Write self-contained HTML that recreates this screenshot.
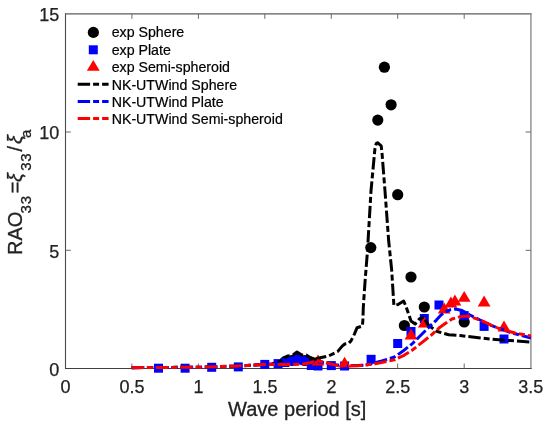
<!DOCTYPE html>
<html><head><meta charset="utf-8"><title>RAO33</title>
<style>
html,body{margin:0;padding:0;background:#fff;}
body{width:550px;height:428px;overflow:hidden;}
svg{display:block;font-family:"Liberation Sans",Arial,Helvetica,sans-serif;}
</style></head><body>
<svg width="550" height="428" viewBox="0 0 550 428">
<rect width="550" height="428" fill="#fff"/>

<g fill="none">
<line x1="65.5" y1="13.3" x2="65.5" y2="369" stroke="#4a4a4a" stroke-width="1.1"/>
<line x1="65.1" y1="13.8" x2="531.6" y2="13.8" stroke="#5c5c5c" stroke-width="1.2"/>
<line x1="530.9" y1="13.3" x2="530.9" y2="369" stroke="#8c8c8c" stroke-width="1.4"/>
<line x1="65.1" y1="368.5" x2="531.6" y2="368.5" stroke="#404040" stroke-width="1.1"/>
<g stroke="#6a6a6a" stroke-width="1">
<line x1="131.9" y1="368.5" x2="131.9" y2="363.5"/>
<line x1="131.9" y1="13.8" x2="131.9" y2="18.8"/>
<line x1="198.4" y1="368.5" x2="198.4" y2="363.5"/>
<line x1="198.4" y1="13.8" x2="198.4" y2="18.8"/>
<line x1="264.8" y1="368.5" x2="264.8" y2="363.5"/>
<line x1="264.8" y1="13.8" x2="264.8" y2="18.8"/>
<line x1="331.3" y1="368.5" x2="331.3" y2="363.5"/>
<line x1="331.3" y1="13.8" x2="331.3" y2="18.8"/>
<line x1="397.7" y1="368.5" x2="397.7" y2="363.5"/>
<line x1="397.7" y1="13.8" x2="397.7" y2="18.8"/>
<line x1="464.2" y1="368.5" x2="464.2" y2="363.5"/>
<line x1="464.2" y1="13.8" x2="464.2" y2="18.8"/>
<line x1="65.5" y1="250.3" x2="70.8" y2="250.3"/>
<line x1="530.9" y1="250.3" x2="525.6" y2="250.3"/>
<line x1="65.5" y1="132.0" x2="70.8" y2="132.0"/>
<line x1="530.9" y1="132.0" x2="525.6" y2="132.0"/>
</g></g>
<g font-size="18px" fill="#222" stroke="#222" stroke-width="0.25">
<text x="65.6" y="392.6" text-anchor="middle">0</text>
<text x="132.0" y="392.6" text-anchor="middle">0.5</text>
<text x="198.5" y="392.6" text-anchor="middle">1</text>
<text x="264.9" y="392.6" text-anchor="middle">1.5</text>
<text x="331.4" y="392.6" text-anchor="middle">2</text>
<text x="397.8" y="392.6" text-anchor="middle">2.5</text>
<text x="464.3" y="392.6" text-anchor="middle">3</text>
<text x="530.7" y="392.6" text-anchor="middle">3.5</text>
<text x="59.2" y="375.8" text-anchor="end">0</text>
<text x="59.2" y="257.6" text-anchor="end">5</text>
<text x="59.2" y="139.3" text-anchor="end">10</text>
<text x="59.2" y="21.1" text-anchor="end">15</text>
</g>
<text x="297.2" y="415.6" font-size="20px" fill="#222" stroke="#222" stroke-width="0.3" text-anchor="middle">Wave period [s]</text>
<g transform="translate(21.7,0) rotate(-90)" font-size="20px" fill="#222" stroke="#222" stroke-width="0.3">
<text x="-255" y="0">RAO</text>
<text x="-213.4" y="9.3" font-size="15px" letter-spacing="0.7">33</text>
<text x="-193.3" y="0">=</text>
<text x="-182" y="0" font-style="italic">ξ</text>
<text x="-170.7" y="9.3" font-size="15px" letter-spacing="0.7">33</text>
<text x="-151.6" y="0">/</text>
<text x="-144" y="0" font-style="italic">ξ</text>
<text x="-138" y="9.3" font-size="15px">a</text>
</g>
<g>
<circle cx="285.8" cy="361.2" r="5.6" fill="#000"/>
<circle cx="292.4" cy="360.3" r="5.6" fill="#000"/>
<circle cx="298.1" cy="359.0" r="5.6" fill="#000"/>
<circle cx="304.7" cy="360.5" r="5.6" fill="#000"/>
<circle cx="311.3" cy="362.0" r="5.6" fill="#000"/>
<circle cx="370.8" cy="247.6" r="5.6" fill="#000"/>
<circle cx="377.8" cy="120.1" r="5.6" fill="#000"/>
<circle cx="384.4" cy="67.2" r="5.6" fill="#000"/>
<circle cx="391.1" cy="104.8" r="5.6" fill="#000"/>
<circle cx="397.7" cy="194.7" r="5.6" fill="#000"/>
<circle cx="404.4" cy="325.5" r="5.6" fill="#000"/>
<circle cx="411.0" cy="277.0" r="5.6" fill="#000"/>
<circle cx="424.3" cy="307.0" r="5.6" fill="#000"/>
<circle cx="464.2" cy="322.0" r="5.6" fill="#000"/>
<rect x="154.0" y="363.7" width="9" height="9" fill="#00f"/>
<rect x="180.6" y="363.7" width="9" height="9" fill="#00f"/>
<rect x="207.2" y="362.8" width="9" height="9" fill="#00f"/>
<rect x="233.8" y="362.4" width="9" height="9" fill="#00f"/>
<rect x="260.3" y="359.9" width="9" height="9" fill="#00f"/>
<rect x="273.6" y="359.1" width="9" height="9" fill="#00f"/>
<rect x="280.3" y="358.0" width="9" height="9" fill="#00f"/>
<rect x="286.9" y="356.5" width="9" height="9" fill="#00f"/>
<rect x="293.6" y="354.8" width="9" height="9" fill="#00f"/>
<rect x="300.2" y="356.1" width="9" height="9" fill="#00f"/>
<rect x="306.8" y="361.0" width="9" height="9" fill="#00f"/>
<rect x="313.5" y="361.5" width="9" height="9" fill="#00f"/>
<rect x="326.8" y="361.1" width="9" height="9" fill="#00f"/>
<rect x="340.1" y="361.5" width="9" height="9" fill="#00f"/>
<rect x="366.6" y="354.8" width="9" height="9" fill="#00f"/>
<rect x="393.2" y="339.0" width="9" height="9" fill="#00f"/>
<rect x="406.5" y="327.0" width="9" height="9" fill="#00f"/>
<rect x="419.8" y="314.0" width="9" height="9" fill="#00f"/>
<rect x="434.5" y="300.5" width="9" height="9" fill="#00f"/>
<rect x="459.7" y="311.1" width="9" height="9" fill="#00f"/>
<rect x="479.6" y="321.9" width="9" height="9" fill="#00f"/>
<rect x="499.5" y="334.5" width="9" height="9" fill="#00f"/>
<polygon points="318.0,354.6 311.6,365.4 324.4,365.4" fill="#f00"/>
<polygon points="344.6,356.8 338.2,367.6 351.0,367.6" fill="#f00"/>
<polygon points="411.0,328.6 404.6,339.4 417.4,339.4" fill="#f00"/>
<polygon points="424.3,316.6 417.9,327.4 430.7,327.4" fill="#f00"/>
<polygon points="444.2,302.6 437.8,313.4 450.6,313.4" fill="#f00"/>
<polygon points="450.9,296.6 444.5,307.4 457.3,307.4" fill="#f00"/>
<polygon points="454.9,294.6 448.5,305.4 461.3,305.4" fill="#f00"/>
<polygon points="464.2,291.0 457.8,301.8 470.6,301.8" fill="#f00"/>
<polygon points="484.1,295.6 477.7,306.4 490.5,306.4" fill="#f00"/>
<polygon points="504.0,320.6 497.6,331.4 510.4,331.4" fill="#f00"/>
</g>
<g fill="none" stroke-width="3" stroke-linejoin="round" stroke-dasharray="12.4 3 6 3">
<path d="M131.5 367.7 L200.0 367.2 L238.0 366.0 L265.0 364.5 L272.0 364.0 L281.0 360.8" stroke="#000"/>
<path d="M281.0 360.8 L287.6 356.0 L293.0 355.0 L297.0 352.0 L301.8 355.0 L306.2 355.0 L310.5 357.8 L315.0 359.2 L320.3 357.8 L329.0 355.8 L337.8 351.4 L342.2 346.1 L344.8 344.0 L348.3 343.5 L351.0 340.9 L354.5 333.9 L357.1 327.7 L362.4 326.0 L362.9 320.0 L363.3 307.5 L364.4 291.0 L365.2 279.5 L367.4 252.0 L371.0 191.0 L374.9 149.0 L376.2 143.6 L377.6 142.7 L381.2 145.8 L382.0 153.0 L385.0 191.0 L388.6 240.0 L391.7 270.4 L393.9 305.4 L398.0 304.5 L403.7 301.0 L406.2 307.0 L411.0 321.0 L415.2 324.0 L419.3 319.0 L423.4 317.3 L429.0 325.8 L437.3 331.5 L448.7 334.8 L460.0 335.6 L490.0 339.0 L510.0 340.6 L531.0 342.0" stroke="#000" stroke-dashoffset="11.1"/>
<path d="M132.0 367.7 L200.0 367.2 L238.0 366.0 L265.0 364.5 L290.0 363.5 L305.0 362.5 L318.0 361.5 L330.0 364.0 L345.0 366.0 L365.0 365.3 L381.8 361.0 L394.5 357.0 L403.0 351.1 L412.7 343.3 L421.8 334.2 L431.0 325.1 L436.4 320.1 L441.0 315.0 L445.5 312.0 L450.0 309.8 L455.5 309.0 L462.0 310.5 L470.0 315.0 L480.0 320.0 L490.0 325.0 L510.0 332.4 L531.0 338.0" stroke="#00f"/>
<path d="M131.5 367.7 L200.0 367.2 L238.0 366.0 L265.0 364.5 L290.0 364.6 L302.0 364.2 L310.0 362.8 L318.0 360.7 L327.0 363.0 L336.7 365.4 L358.0 365.8 L376.4 363.6 L394.5 359.8 L404.0 355.3 L412.7 349.8 L421.8 342.6 L431.0 335.3 L440.0 327.2 L445.5 323.3 L452.0 319.0 L460.0 316.8 L468.0 316.0 L480.0 320.0 L500.0 329.0 L515.0 333.0 L531.0 336.0" stroke="#f00"/>
</g>
<g>
<circle cx="93.35" cy="32.4" r="5.6" fill="#000"/>
<rect x="88.8" y="45.3" width="9" height="9" fill="#00f"/>
<polygon points="93.3,59.9 86.9,70.7 99.7,70.7" fill="#f00"/>
<line x1="77.7" y1="84.3" x2="108.6" y2="84.3" stroke="#000" stroke-width="3" stroke-dasharray="12.4 3 6 3"/>
<line x1="77.7" y1="101.6" x2="108.6" y2="101.6" stroke="#00f" stroke-width="3" stroke-dasharray="12.4 3 6 3"/>
<line x1="77.7" y1="118.6" x2="108.6" y2="118.6" stroke="#f00" stroke-width="3" stroke-dasharray="12.4 3 6 3"/>
</g>
<g font-size="14.2px" fill="#000" stroke="#000" stroke-width="0.2">
<text x="111.7" y="37.3">exp Sphere</text>
<text x="111.7" y="55.0">exp Plate</text>
<text x="111.7" y="72.3">exp Semi-spheroid</text>
<text x="111.7" y="89.7">NK-UTWind Sphere</text>
<text x="111.7" y="106.8">NK-UTWind Plate</text>
<text x="111.7" y="124.0">NK-UTWind Semi-spheroid</text>
</g>
</svg></body></html>
